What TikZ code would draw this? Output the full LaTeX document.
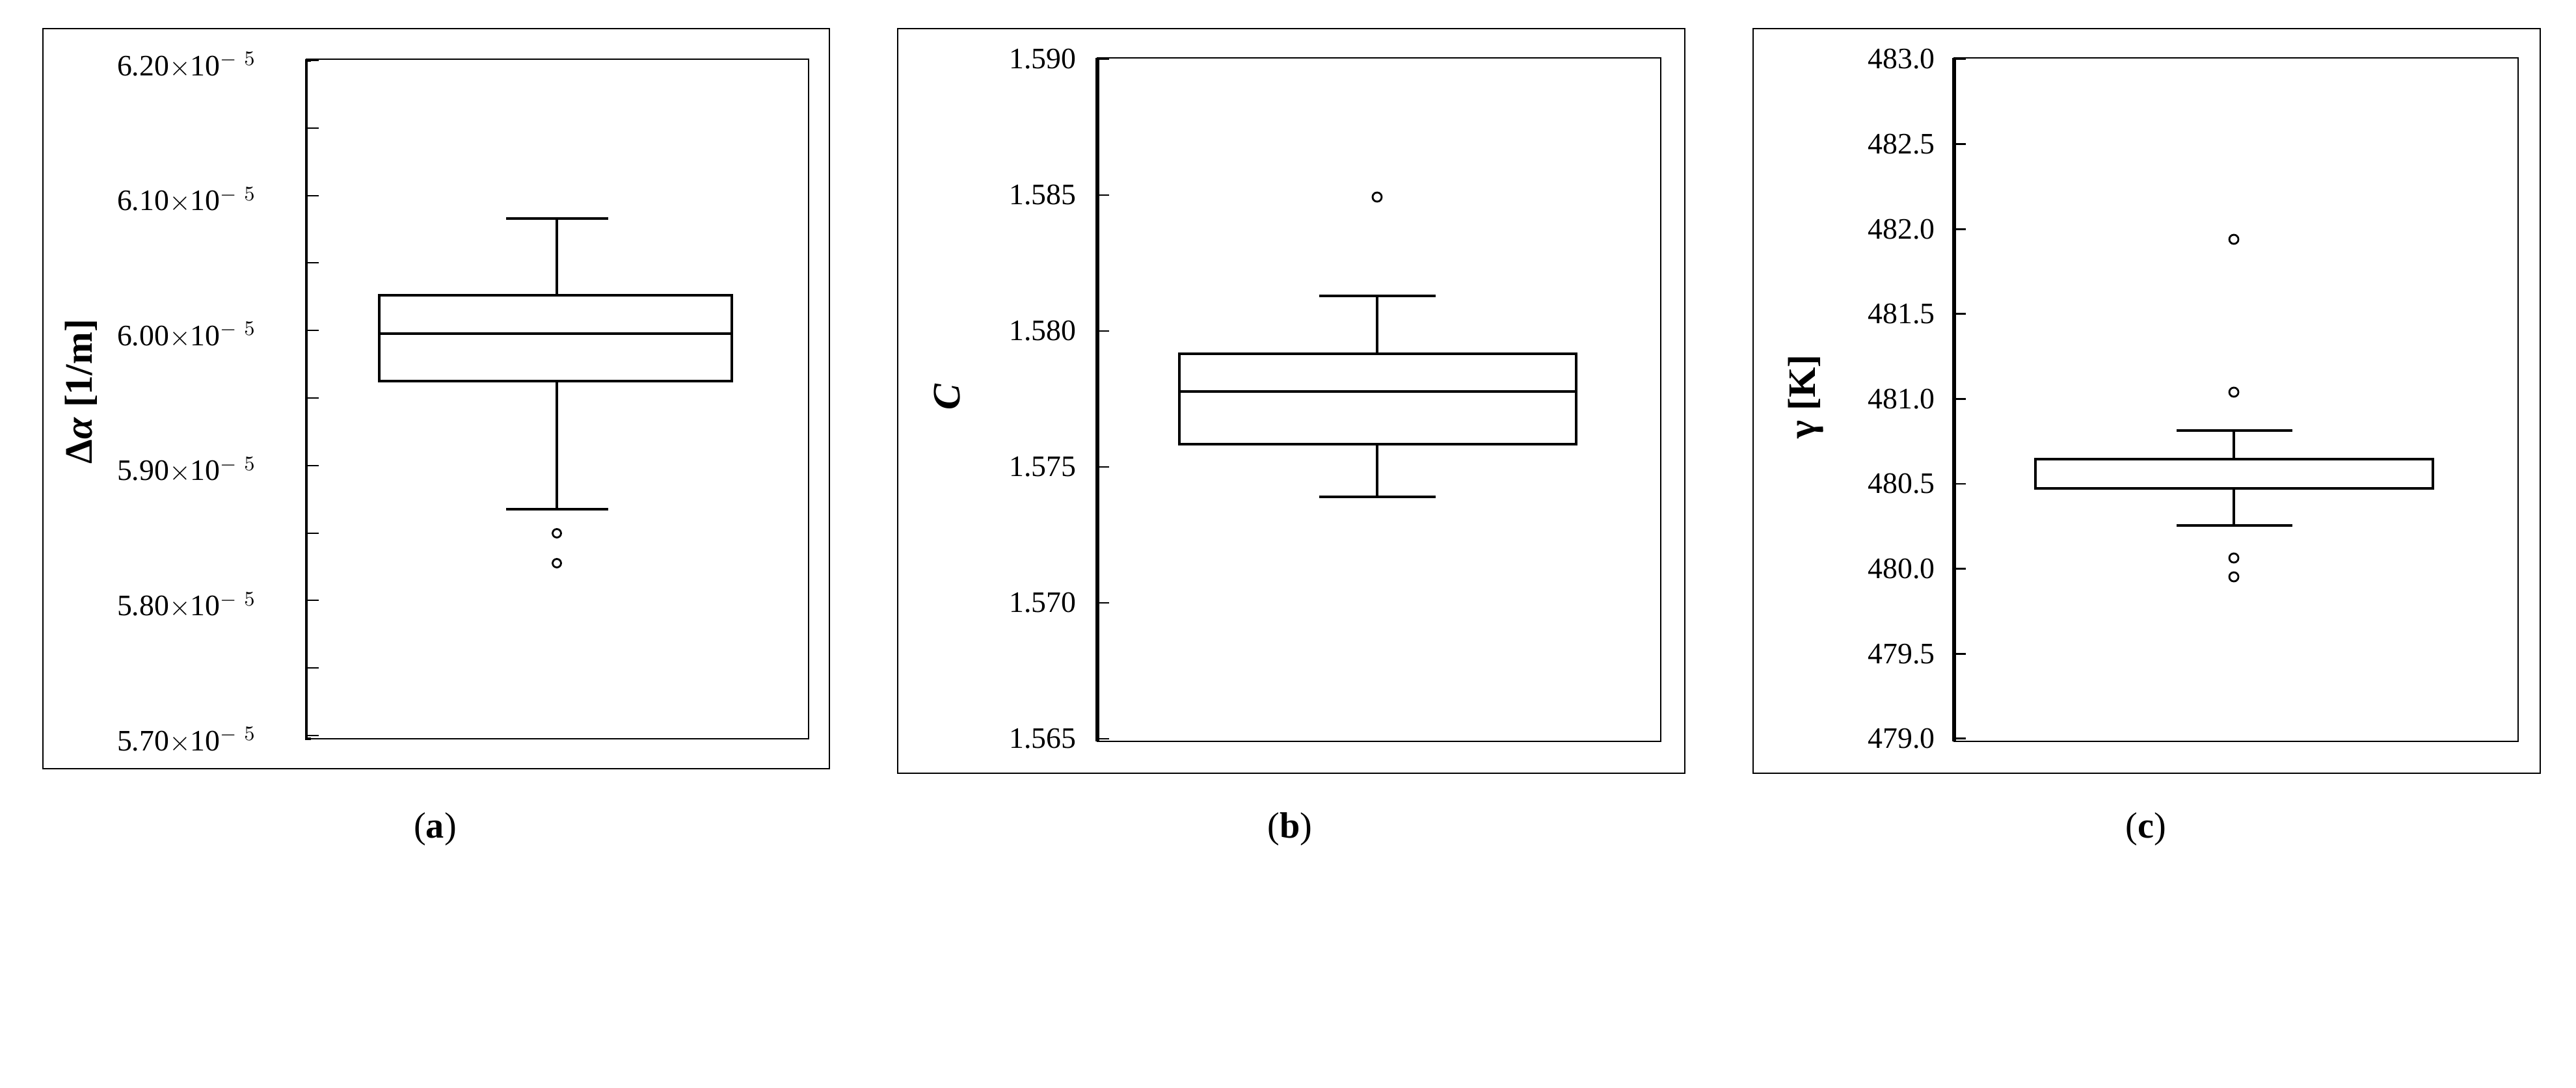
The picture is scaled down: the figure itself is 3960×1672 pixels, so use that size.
\documentclass[tikz,border=0pt]{standalone}
\usepackage{fontspec}
\setmainfont{Liberation Serif}
\begin{document}
\begin{tikzpicture}[x=0.01cm,y=-0.01cm,
  frame/.style={draw=black,line width=0.6pt},
  plotbox/.style={draw=black,line width=0.8pt},
  axisline/.style={draw=black,line width=1.6pt},
  bx/.style={draw=black,line width=1pt},
  outl/.style={draw=black,line width=0.8pt},
  tlab/.style={anchor=east,font=\fontsize{13}{15}\selectfont,inner sep=0pt},
  ylab/.style={rotate=90,font=\fontsize{17}{20}\selectfont\bfseries},
  captxt/.style={font=\fontsize{16}{19}\selectfont}]
\useasboundingbox (0,0) rectangle (3960,1672);
% ---------- panel a
\draw[frame] (66,44) rectangle (1275,1182);
\draw[plotbox] (471,91) rectangle (1243,1136);
\draw[black,line width=1pt] (478,93) -- (471,93) -- (471,1136) -- (478,1136);
\foreach \i in {0,...,10} {\draw[black,line width=0.6pt] (471,{93+103.8*\i}) -- (490,{93+103.8*\i});}
\foreach \v [count=\i from 0] in {6.20,6.10,6.00,5.90,5.80,5.70}
  \node[tlab] (ta\i) at (394,{100+207.6*\i}) {\v$\times$10$^{-\ 5}$};
\draw[bx] (583,454) rectangle (1125,586);
\draw[bx] (583,513) -- (1125,513);
\draw[bx] (856,454) -- (856,336); \draw[bx] (778,336) -- (935,336);
\draw[bx] (856,586) -- (856,783); \draw[bx] (778,783) -- (935,783);
\draw[outl] (856,820) circle (6.5); \draw[outl] (856,866) circle (6.5);
\node[ylab] (la) at (125,602) {Δ\textit{α} [1/m]};
\node[captxt] (ca) at (669,1275) {(\textbf{a})};
% ---------- panel b
\draw[frame] (1380,44) rectangle (2590,1189);
\draw[plotbox] (1687,89) rectangle (2553,1140);
\draw[axisline] (1687,89) -- (1687,1140);
\foreach \v [count=\i from 0] in {1.590,1.585,1.580,1.575,1.570,1.565}{
  \draw[black,line width=0.8pt] (1687,{91+209*\i}) -- (1705,{91+209*\i});
  \node[tlab] (tb\i) at (1655,{91+209*\i}) {\v};}
\draw[bx] (1813,544) rectangle (2423,683);
\draw[bx] (1813,602) -- (2423,602);
\draw[bx] (2117,544) -- (2117,455); \draw[bx] (2028,455) -- (2207,455);
\draw[bx] (2117,683) -- (2117,764); \draw[bx] (2028,764) -- (2207,764);
\draw[outl] (2117,303) circle (7);
\node[ylab] (lb) at (1456,610) {\textit{C}};
\node[captxt] (cb) at (1983,1275) {(\textbf{b})};
% ---------- panel c
\draw[frame] (2695,44) rectangle (3905,1189);
\draw[plotbox] (3004,89) rectangle (3871,1140);
\draw[axisline] (3004,89) -- (3004,1140);
\foreach \v [count=\i from 0] in {483.0,482.5,482.0,481.5,481.0,480.5,480.0,479.5,479.0}{
  \draw[black,line width=0.8pt] (3004,{91+130.6*\i}) -- (3022,{91+130.6*\i});
  \node[tlab] (tc\i) at (2975,{91+130.6*\i}) {\v};}
\draw[bx] (3129,706) rectangle (3740,751);
\draw[bx] (3434,706) -- (3434,662); \draw[bx] (3346,662) -- (3524,662);
\draw[bx] (3434,751) -- (3434,808); \draw[bx] (3346,808) -- (3524,808);
\draw[outl] (3434,368) circle (7); \draw[outl] (3434,603) circle (7);
\draw[outl] (3434,858) circle (7); \draw[outl] (3434,887) circle (7);
\node[ylab] (lc) at (2776,610) {γ [K]};
\node[captxt] (cc) at (3299,1275) {(\textbf{c})};
\end{tikzpicture}
\end{document}
